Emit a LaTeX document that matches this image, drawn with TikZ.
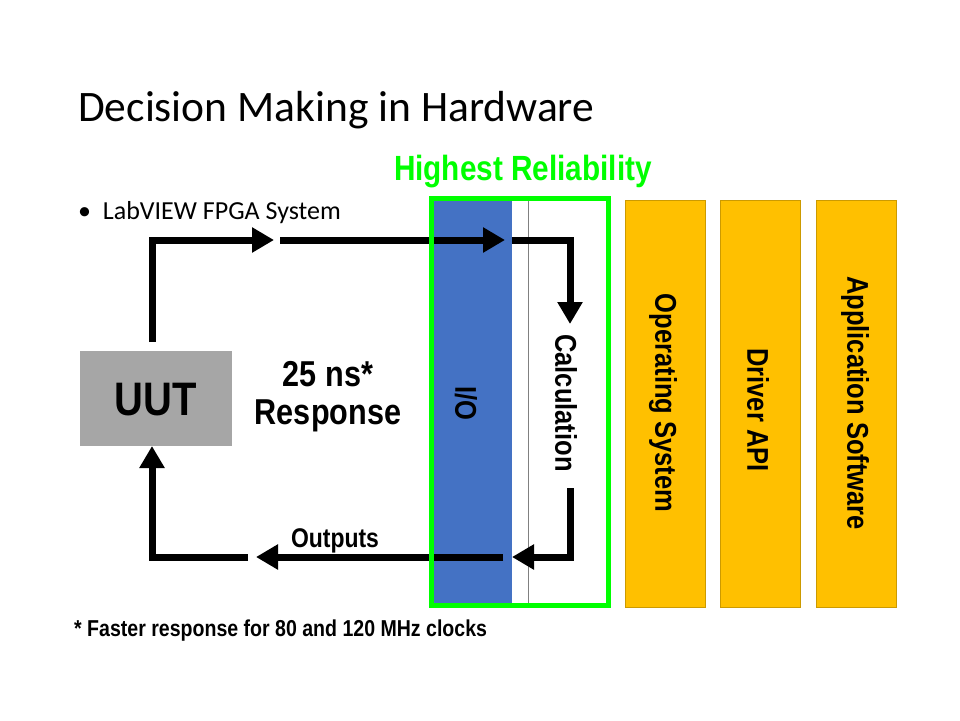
\documentclass[tikz,border=0pt]{standalone}
\usepackage{fontspec}
\setmainfont{Liberation Sans}
\newfontfamily\calfont{Carlito}
\usetikzlibrary{arrows.meta}
\definecolor{ioblue}{RGB}{68,114,196}
\definecolor{orng}{RGB}{255,192,0}
\definecolor{grn}{RGB}{0,255,0}
\newcommand{\nar}[1]{\scalebox{0.85}[1]{#1}}
\begin{document}
\begin{tikzpicture}[x=1pt,y=-1pt,
  flow/.style={line width=7pt,-{Triangle[length=22pt,width=24pt]}},
  layer/.style={fill=orng,draw=orng!80!black,line width=0.5pt},
  vtext/.style={rotate=-90,font=\bfseries\fontsize{30}{34}\selectfont},
]
\useasboundingbox (0,0) rectangle (960,720);
\node[anchor=base west,inner sep=0,font=\calfont\fontsize{43.5}{48}\selectfont] (title) at (78,121) {Decision Making in Hardware};
\node[anchor=base west,inner sep=0,font=\calfont\fontsize{26}{30}\selectfont] (bul) at (78,219) {\textbullet\ \ LabVIEW FPGA System};
% layers
\fill[ioblue] (432,200) rectangle (512,603);
\node[vtext] (io) at (466,403) {\nar{I/O}};
\draw[gray,line width=0.7pt] (528,200) -- (528,603);
\node[vtext] (calc) at (566,403) {\nar{Calculation}};
\draw[layer] (625,200) rectangle (705,607);
\node[vtext] (os) at (663,403) {\nar{Operating System}};
\draw[layer] (720,200) rectangle (800,607);
\node[vtext] (drv) at (758,410) {\nar{Driver API}};
\draw[layer] (816,200) rectangle (896,607);
\node[vtext] (app) at (855,403) {\nar{Application Software}};
% UUT
\fill[black!35] (80,351) rectangle (232,446);
\node[font=\bfseries\fontsize{47}{50}\selectfont] (uut) at (156,400) {\nar{UUT}};
\node[align=center,font=\bfseries\fontsize{36}{38}\selectfont] (resp) at (328,397) {\nar{25 ns*}\\\nar{Response}};
% arrows
\coordinate (a0) at (152,342);
\coordinate (a1) at (152,240);
\coordinate (a2) at (274,240);
\coordinate (b0) at (280,240);
\coordinate (b1) at (505,240);
\coordinate (c0) at (512,240);
\coordinate (c1) at (570,240);
\coordinate (c2) at (570,324);
\coordinate (d0) at (570,488);
\coordinate (d1) at (570,557);
\coordinate (d2) at (512,557);
\coordinate (e0) at (503,557);
\coordinate (e1) at (256,557);
\coordinate (f0) at (248,557);
\coordinate (f1) at (152,557);
\coordinate (f2) at (152,446);
\draw[flow] (a0) -- (a1) -- (a2);
\draw[flow] (b0) -- (b1);
\draw[flow] (c0) -- (c1) -- (c2);
\draw[flow] (d0) -- (d1) -- (d2);
\draw[flow] (e0) -- (e1);
\draw[flow] (f0) -- (f1) -- (f2);
\node[font=\bfseries\fontsize{27}{30}\selectfont] (out) at (335,541) {\nar{Outputs}};
% green frame
\draw[grn,line width=5pt] (431,198) rectangle (608,605);
\node[text=grn,font=\bfseries\fontsize{35}{38}\selectfont] (hr) at (523,172) {\nar{Highest Reliability}};
\node[anchor=west,inner sep=0,font=\bfseries\fontsize{23}{26}\selectfont] (foot) at (74,631) {\nar{* Faster response for 80 and 120 MHz clocks}};
\end{tikzpicture}
\end{document}
